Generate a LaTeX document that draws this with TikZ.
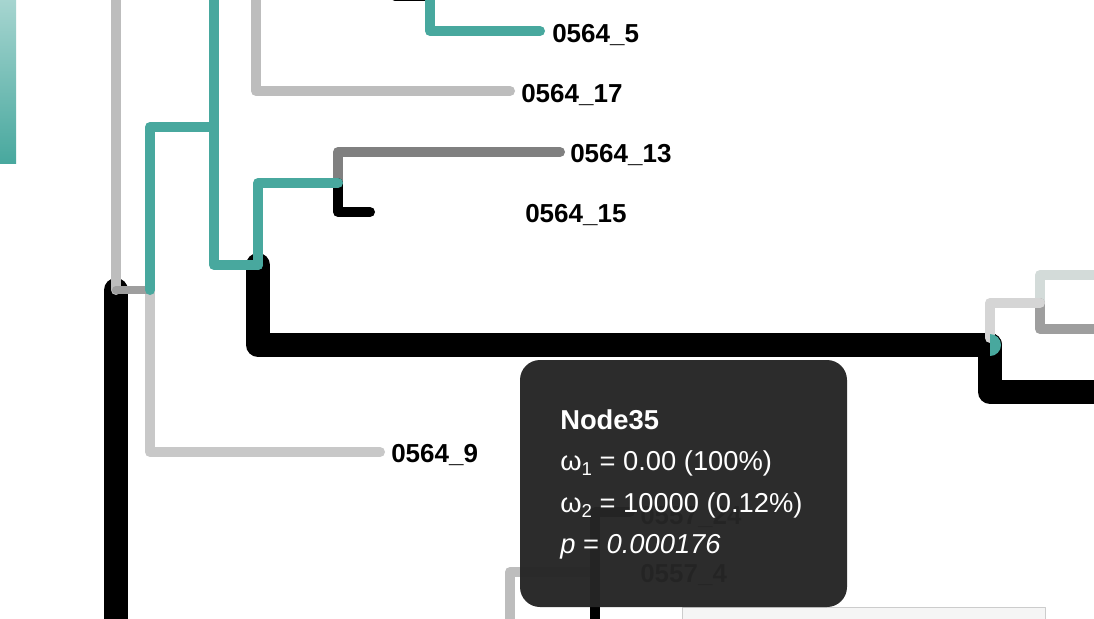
\documentclass[tikz,border=0pt]{standalone}
\usepackage{fontspec}
\setmainfont{Liberation Sans}
\begin{document}
\begin{tikzpicture}[x=0.75pt,y=-0.75pt,line cap=round,line join=round,
  br/.style={line width=7.5pt},
  thick br/.style={line width=18pt,black},
  lbl/.style={anchor=west,inner sep=0pt,font=\bfseries\fontsize{19.5}{21}\selectfont},
  tip/.style={anchor=west,inner sep=0pt,text=white,font=\fontsize{20.5}{22}\selectfont}]
\definecolor{teal1}{HTML}{48A89E}
\definecolor{lteal}{HTML}{A6D5D0}
\definecolor{lg1}{HTML}{BDBDBD}
\definecolor{lg2}{HTML}{C8C8C8}
\definecolor{mg}{HTML}{9E9E9E}
\definecolor{dg}{HTML}{808080}
\definecolor{lg3}{HTML}{D5D5D5}
\definecolor{lg4}{HTML}{D3DBD9}
\definecolor{tipbg}{HTML}{262626}
\useasboundingbox (0,0) rectangle (1094,618);
\fill[white] (0,0) rectangle (1094,618);
% legend gradient
\shade[top color=lteal,bottom color=teal1] (0,0) rectangle (16,163);
% left structure
\draw[thick br] (116,290) -- (116,640);
\draw[br,lg1] (116,-10) -- (116,290);
\draw[br,lg2] (150,290) -- (150,452) -- (380,452);
\draw[br,mg,line width=6pt] (116,290) -- (150,290);
\draw[br,teal1] (150,290) -- (150,127) -- (212,127);
\draw[br,lg1] (256,-10) -- (256,91) -- (510,91);
\draw[br,black] (395,-4) -- (430,-4);
\draw[br,teal1] (430,-4) -- (430,31) -- (540,31);
\draw[br,dg] (338,183) -- (338,152) -- (560,152);
\draw[br,black] (338,183) -- (338,212) -- (370,212);
% thick main
\draw[thick br] (258,265) -- (258,345) -- (990,345);
\draw[br,teal1] (214,-10) -- (214,265) -- (258,265);
\draw[br,teal1] (258,265) -- (258,183) -- (338,183);
\draw[thick br] (990,345) -- (990,392) -- (1110,392);
\draw[br,lg4] (1040,303) -- (1040,275) -- (1110,275);
\draw[br,mg] (1040,303) -- (1040,329) -- (1110,329);
\draw[br,lg3] (990,338) -- (990,303) -- (1040,303);
\fill[teal1] (990,334) arc (-90:90:11) -- cycle;
% bottom
\draw[br,lg1] (510,640) -- (510,572) -- (595,572);
\draw[br,black] (595,640) -- (595,512) -- (630,512);
\fill[gray!8] (682,607) rectangle (1045,625);
\draw[gray!40] (682,625) -- (682,607) -- (1045,607) -- (1045,625);
% labels
\node[lbl] (l5) at (552,35) {0564\_5};
\node[lbl] (l17) at (521,95) {0564\_17};
\node[lbl] (l13) at (570,155) {0564\_13};
\node[lbl] (l15) at (525,215) {0564\_15};
\node[lbl] (l9) at (391,455) {0564\_9};
\node[lbl] (l24) at (640,517) {0557\_24};
\node[lbl] (l4) at (640,575) {0557\_4};
% tooltip
\fill[tipbg,fill opacity=0.97,rounded corners=15pt] (520,360) rectangle (847,607);
\node[tip,font=\bfseries\fontsize{20.5}{22}\selectfont] (t0) at (560,420) {Node35};
\node[tip] (t1) at (560,463) {ω\raisebox{-0.35ex}{\fontsize{14}{14}\selectfont 1} = 0.00 (100\%)};
\node[tip] (t2) at (560,505) {ω\raisebox{-0.35ex}{\fontsize{14}{14}\selectfont 2} = 10000 (0.12\%)};
\node[tip] (t3) at (560,547) {\textit{p} = \textit{0.000176}};
\end{tikzpicture}
\end{document}
